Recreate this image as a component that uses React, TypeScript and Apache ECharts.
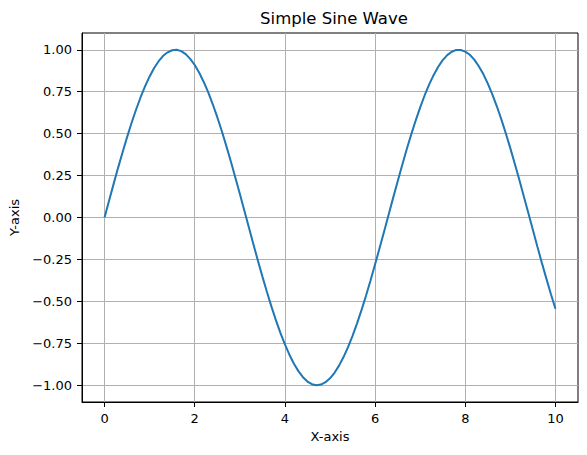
import React, { useEffect, useRef } from 'react'
import * as echarts from 'echarts'

// x samples (step 0.1) and sin values
const xValues = [
  0, 0.1, 0.2, 0.3, 0.4, 0.5, 0.6, 0.7, 0.8, 0.9, 1, 1.1, 1.2, 1.3, 1.4, 1.5, 1.6, 1.7, 1.8, 1.9,
  2, 2.1, 2.2, 2.3, 2.4, 2.5, 2.6, 2.7, 2.8, 2.9, 3, 3.1, 3.2, 3.3, 3.4, 3.5, 3.6, 3.7, 3.8, 3.9,
  4, 4.1, 4.2, 4.3, 4.4, 4.5, 4.6, 4.7, 4.8, 4.9, 5, 5.1, 5.2, 5.3, 5.4, 5.5, 5.6, 5.7, 5.8, 5.9,
  6, 6.1, 6.2, 6.3, 6.4, 6.5, 6.6, 6.7, 6.8, 6.9, 7, 7.1, 7.2, 7.3, 7.4, 7.5, 7.6, 7.7, 7.8, 7.9,
  8, 8.1, 8.2, 8.3, 8.4, 8.5, 8.6, 8.7, 8.8, 8.9, 9, 9.1, 9.2, 9.3, 9.4, 9.5, 9.6, 9.7, 9.8, 9.9,
  10,
]
const yValues = [
  0.0, 0.1, 0.199, 0.296, 0.389, 0.479, 0.565, 0.644, 0.717, 0.783,
  0.841, 0.891, 0.932, 0.964, 0.985, 0.997, 1.0, 0.992, 0.974, 0.946,
  0.909, 0.863, 0.808, 0.746, 0.675, 0.598, 0.516, 0.427, 0.335, 0.239,
  0.141, 0.042, -0.058, -0.158, -0.256, -0.351, -0.443, -0.53, -0.612, -0.688,
  -0.757, -0.818, -0.872, -0.916, -0.952, -0.978, -0.994, -1.0, -0.996, -0.982,
  -0.959, -0.926, -0.883, -0.832, -0.773, -0.706, -0.631, -0.551, -0.465, -0.374,
  -0.279, -0.182, -0.083, 0.017, 0.117, 0.215, 0.312, 0.405, 0.494, 0.578,
  0.657, 0.729, 0.794, 0.85, 0.899, 0.938, 0.968, 0.988, 0.999, 0.999,
  0.989, 0.97, 0.941, 0.902, 0.855, 0.798, 0.734, 0.663, 0.585, 0.501,
  0.412, 0.319, 0.223, 0.124, 0.025, -0.075, -0.174, -0.272, -0.366, -0.458,
  -0.544,
]
const xTicks = [0, 2, 4, 6, 8, 10]
const yTicks = [-1, -0.75, -0.5, -0.25, 0, 0.25, 0.5, 0.75, 1]

const font = 'DejaVu Sans'

const App = () => {
  const chartRef = useRef<HTMLDivElement>(null)

  useEffect(() => {
    document.body.style.margin = '0'
    const chart = echarts.init(chartRef.current!, null, { renderer: 'svg' })

    const gridLine = { show: true, lineStyle: { color: '#b0b0b0', width: 1 } }

    chart.setOption({
      animation: false,
      title: {
        text: 'Simple Sine Wave',
        left: 329,
        top: 5,
        textAlign: 'center',
        textStyle: { fontFamily: font, fontSize: 16.5, fontWeight: 'normal', color: '#000' },
      },
      grid: {
        left: 82,
        right: 9,
        top: 33,
        bottom: 53,
        show: true,
        borderColor: '#000',
        borderWidth: 1,
      },
      xAxis: {
        type: 'value',
        min: -0.5,
        max: 10.5,
        name: 'X-axis',
        nameLocation: 'middle',
        nameGap: 28,
        nameTextStyle: { fontFamily: font, fontSize: 13, color: '#000' },
        axisLine: { show: true, onZero: false, lineStyle: { color: '#000' } },
        axisTick: { show: true, length: 5, customValues: xTicks, lineStyle: { color: '#000' } },
        axisLabel: {
          customValues: xTicks,
          margin: 10,
          fontFamily: font,
          fontSize: 13,
          color: '#000',
          formatter: (v: number) => String(v),
        },
        splitLine: gridLine,
      },
      yAxis: {
        type: 'value',
        min: -1.1,
        max: 1.1,
        name: 'Y-axis',
        nameLocation: 'middle',
        nameGap: 60,
        nameRotate: 90,
        nameTextStyle: { fontFamily: font, fontSize: 13, color: '#000' },
        axisLine: { show: true, onZero: false, lineStyle: { color: '#000' } },
        axisTick: { show: true, length: 5, customValues: yTicks, lineStyle: { color: '#000' } },
        axisLabel: {
          customValues: yTicks,
          margin: 10,
          fontFamily: font,
          fontSize: 13,
          color: '#000',
          formatter: (v: number) => (v < 0 ? '\u2212' + Math.abs(v).toFixed(2) : v.toFixed(2)),
        },
        splitLine: gridLine,
      },
      series: [
        {
          type: 'line',
          data: xValues.map((x, i) => [x, yValues[i]]),
          showSymbol: false,
          lineStyle: { color: '#1f77b4', width: 2 },
        },
      ],
    })

    return () => {
      chart.dispose()
    }
  }, [])

  return <div style={{ width: '587px', height: '455px' }} ref={chartRef}></div>
}
export default App
